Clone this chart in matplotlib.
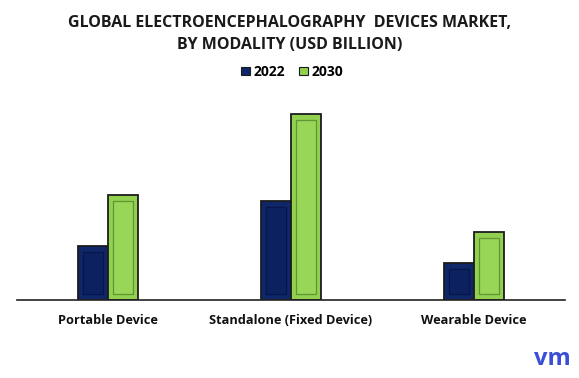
import matplotlib
matplotlib.use('Agg')
import matplotlib.pyplot as plt
import numpy as np

# --- Data ---
categories = ['Portable Device', 'Standalone (Fixed Device)', 'Wearable Device']
years = ['2022', '2030']
values_2022 = [0.54, 0.99, 0.37]
values_2030 = [1.05, 1.86, 0.68]

# --- Style ---
plt.rcParams['font.family'] = ['Open Sans', 'DejaVu Sans']
NAVY = '#0f2668'
NAVY_IN = '#0c2260'
NAVY_LINE = '#06164a'
GREEN = '#92d050'
GREEN_IN = '#98d658'
GREEN_LINE = '#5f9633'
EDGE = '#1c1c1c'

fig = plt.figure(figsize=(5.79, 3.78), dpi=100)
ax = fig.add_axes([0.029, 0.206, 0.947, 0.53])

x = np.arange(len(categories))
width = 0.165

for vals, off, col, col_in, col_line in [(values_2022, -width / 2, NAVY, NAVY_IN, NAVY_LINE),
                                         (values_2030, width / 2, GREEN, GREEN_IN, GREEN_LINE)]:
    ax.bar(x + off, vals, width, color=col, edgecolor=EDGE, linewidth=1.3, zorder=2)
    # inner bevel panel
    inset_x = 0.028
    inset_y = 0.06
    inner = [max(v - 2 * inset_y, 0) for v in vals]
    ax.bar(x + off, inner, width - 2 * inset_x, bottom=inset_y, color=col_in,
           edgecolor=col_line, linewidth=0.9, zorder=3)

ax.set_xlim(-0.5, 2.5)
ax.set_ylim(0, 2.0)
ax.set_xticks(x)
ax.set_xticklabels(categories, fontsize=9.2, fontweight='bold', color='#111111')
ax.tick_params(axis='x', length=0, pad=10)
ax.set_yticks([])
for s in ['top', 'right', 'left']:
    ax.spines[s].set_visible(False)
ax.spines['bottom'].set_color('#222222')
ax.spines['bottom'].set_linewidth(1.2)

fig.text(0.5, 0.94, 'GLOBAL ELECTROENCEPHALOGRAPHY  DEVICES MARKET,',
         ha='center', va='center', fontsize=11.5, fontweight='bold', color='#1a1a1a')
fig.text(0.5, 0.88, 'BY MODALITY (USD BILLION)',
         ha='center', va='center', fontsize=11.5, fontweight='bold', color='#1a1a1a')

# legend
handles = [plt.Rectangle((0, 0), 1, 1, facecolor=NAVY, edgecolor=EDGE, linewidth=0.8),
           plt.Rectangle((0, 0), 1, 1, facecolor=GREEN, edgecolor=EDGE, linewidth=0.8)]
fig.legend(handles, years, loc='center', bbox_to_anchor=(0.505, 0.81), ncol=2,
           frameon=False, handlelength=0.6, handleheight=0.6,
           handletextpad=0.3, columnspacing=1.0, prop={'weight': 'bold', 'size': 10})

# logo
fig.text(0.985, 0.05, 'vm', ha='right', va='center', fontsize=17,
         fontweight='bold', color='#3a4fd6')

fig.savefig('out.png', dpi=100)
